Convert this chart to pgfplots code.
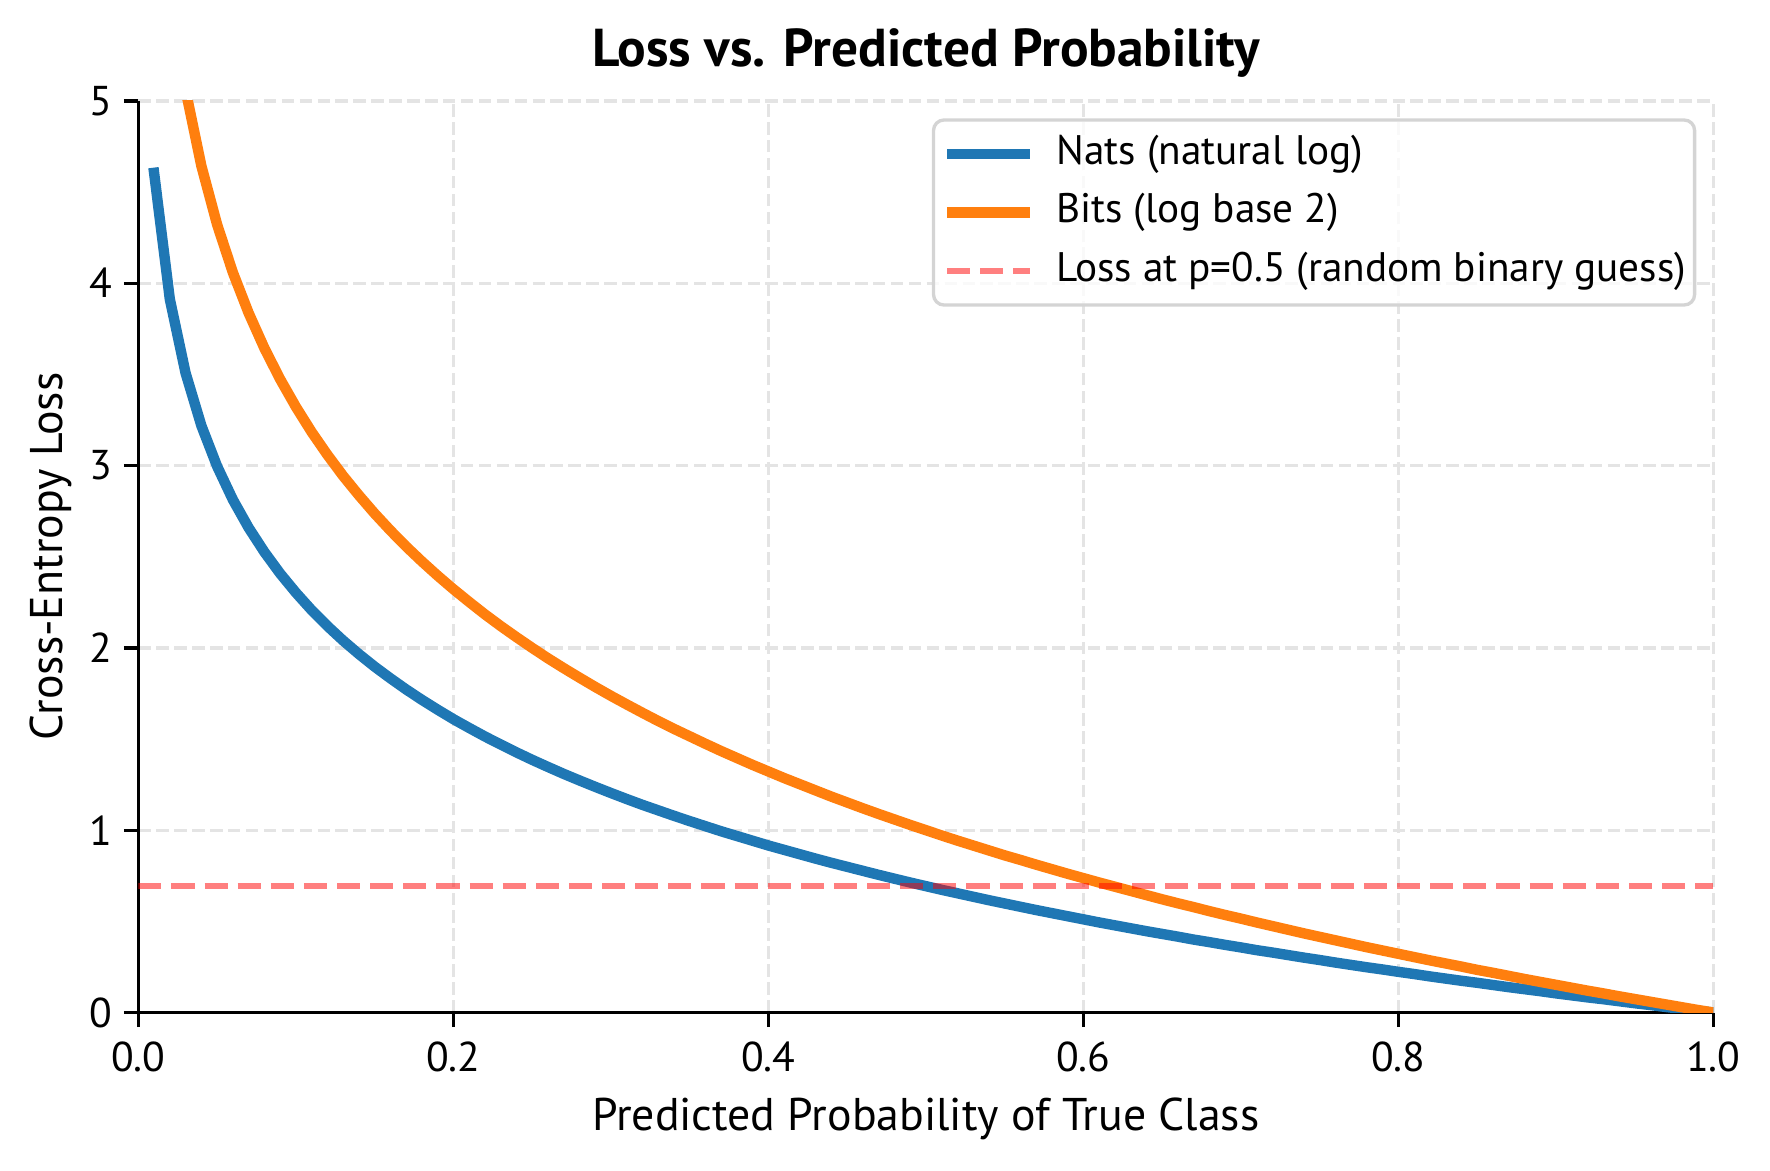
\documentclass[border=0pt]{standalone}
\usepackage{fontspec}
\setmainfont{PT Sans}
\usepackage{pgfplots}
\usepackage{pgfplotstable}
\pgfplotsset{compat=1.18}

\definecolor{natsblue}{HTML}{1F77B4}
\definecolor{bitsorange}{HTML}{FF7F0E}
\definecolor{gridgray}{RGB}{228,228,228}
\definecolor{framegray}{RGB}{212,212,212}

% p, -ln(p), -log2(p)
\pgfplotstableread{
p nats bits
0.01 4.605 6.644
0.02 3.912 5.644
0.03 3.507 5.059
0.04 3.219 4.644
0.05 2.996 4.322
0.06 2.813 4.059
0.07 2.659 3.837
0.08 2.526 3.644
0.09 2.408 3.474
0.10 2.303 3.322
0.11 2.207 3.184
0.12 2.120 3.059
0.13 2.040 2.943
0.14 1.966 2.837
0.15 1.897 2.737
0.16 1.833 2.644
0.17 1.772 2.556
0.18 1.715 2.474
0.19 1.661 2.396
0.20 1.609 2.322
0.21 1.561 2.252
0.22 1.514 2.184
0.23 1.470 2.120
0.24 1.427 2.059
0.25 1.386 2.000
0.26 1.347 1.943
0.27 1.309 1.889
0.28 1.273 1.837
0.29 1.238 1.786
0.30 1.204 1.737
0.31 1.171 1.690
0.32 1.139 1.644
0.33 1.109 1.599
0.34 1.079 1.556
0.35 1.050 1.515
0.36 1.022 1.474
0.37 0.994 1.434
0.38 0.968 1.396
0.39 0.942 1.358
0.40 0.916 1.322
0.41 0.892 1.286
0.42 0.868 1.252
0.43 0.844 1.218
0.44 0.821 1.184
0.45 0.799 1.152
0.46 0.777 1.120
0.47 0.755 1.089
0.48 0.734 1.059
0.49 0.713 1.029
0.50 0.693 1.000
0.51 0.673 0.971
0.52 0.654 0.943
0.53 0.635 0.916
0.54 0.616 0.889
0.55 0.598 0.862
0.56 0.580 0.837
0.57 0.562 0.811
0.58 0.545 0.786
0.59 0.528 0.761
0.60 0.511 0.737
0.61 0.494 0.713
0.62 0.478 0.690
0.63 0.462 0.667
0.64 0.446 0.644
0.65 0.431 0.621
0.66 0.416 0.599
0.67 0.400 0.578
0.68 0.386 0.556
0.69 0.371 0.535
0.70 0.357 0.515
0.71 0.342 0.494
0.72 0.329 0.474
0.73 0.315 0.454
0.74 0.301 0.434
0.75 0.288 0.415
0.76 0.274 0.396
0.77 0.261 0.377
0.78 0.248 0.358
0.79 0.236 0.340
0.80 0.223 0.322
0.81 0.211 0.304
0.82 0.198 0.286
0.83 0.186 0.269
0.84 0.174 0.252
0.85 0.163 0.234
0.86 0.151 0.218
0.87 0.139 0.201
0.88 0.128 0.184
0.89 0.117 0.168
0.90 0.105 0.152
0.91 0.094 0.136
0.92 0.083 0.120
0.93 0.073 0.105
0.94 0.062 0.089
0.95 0.051 0.074
0.96 0.041 0.059
0.97 0.030 0.044
0.98 0.020 0.029
0.99 0.010 0.014
1.00 0.000 0.000
}\losstable

\begin{document}
\begin{tikzpicture}
\begin{axis}[
  scale only axis,
  width=378pt, height=218.8pt,
  xmin=0, xmax=1, ymin=0, ymax=5,
  axis x line*=bottom, axis y line*=left,
  axis line style={-, line width=0.8pt, black},
  xtick={0,0.2,0.4,0.6,0.8,1.0},
  ytick={0,1,2,3,4,5},
  /pgf/number format/assume math mode=true,
  xticklabel={\pgfmathprintnumber[fixed,fixed zerofill,precision=1]{\tick}},
  yticklabel={\pgfmathprintnumber[fixed,precision=0]{\tick}},
  tick align=outside,
  major tick length=3.5pt,
  every tick/.style={black, line width=0.8pt},
  tick label style={font=\fontsize{10}{12}\selectfont},
  yticklabel style={xshift=0.8pt},
  grid=major,
  major grid style={gridgray, line width=0.8pt, dash pattern=on 3pt off 1.3pt},
  title={Loss vs. Predicted Probability},
  every axis title/.style={font=\fontsize{12.8}{15}\selectfont\bfseries,
    at={(axis description cs:0.5,1)}, anchor=base, yshift=8.2pt},
  xlabel={Predicted Probability of True Class},
  every axis x label/.style={font=\fontsize{11}{13}\selectfont,
    at={(axis description cs:0.5,0)}, anchor=base, yshift=-28.2pt},
  ylabel={Cross-Entropy Loss},
  every axis y label/.style={font=\fontsize{11}{13}\selectfont, rotate=90,
    at={([xshift=-18.3pt]axis description cs:0,0.5)}, anchor=base},
  legend cell align=left,
  legend image code/.code={\draw[#1, line cap=butt] (0pt,0pt) -- (20pt,0pt);},
  legend style={
    at={(axis description cs:1,1)}, anchor=north east,
    xshift=-4.1pt, yshift=-4.2pt,
    draw=framegray, line width=0.8pt, rounded corners=2.5pt,
    fill=white, fill opacity=0.8, text opacity=1,
    font=\fontsize{9.9}{12}\selectfont,
    inner xsep=2pt, inner ysep=3.2pt,
    row sep=4.0pt,
    nodes={inner xsep=0pt, inner ysep=0pt, text height=7.5pt, text depth=2.5pt},
    /tikz/every odd column/.append style={column sep=5pt},
  },
]
\addplot[natsblue, line width=2.5pt, line join=round, line cap=rect]
  table[x=p, y=nats] {\losstable};
\addlegendentry{Nats (natural log)}
\addplot[bitsorange, line width=2.5pt, line join=round, line cap=rect]
  table[x=p, y=bits] {\losstable};
\addlegendentry{Bits (log base 2)}
\addplot[red, opacity=0.5, line width=1.5pt, dash pattern=on 5.55pt off 2.4pt]
  coordinates {(0,0.693) (1,0.693)};
\addlegendentry{Loss at p=0.5 (random binary guess)}
\end{axis}
\path (-33.2pt,-37.8pt) rectangle (391.6pt,243pt);
\end{tikzpicture}
\end{document}
